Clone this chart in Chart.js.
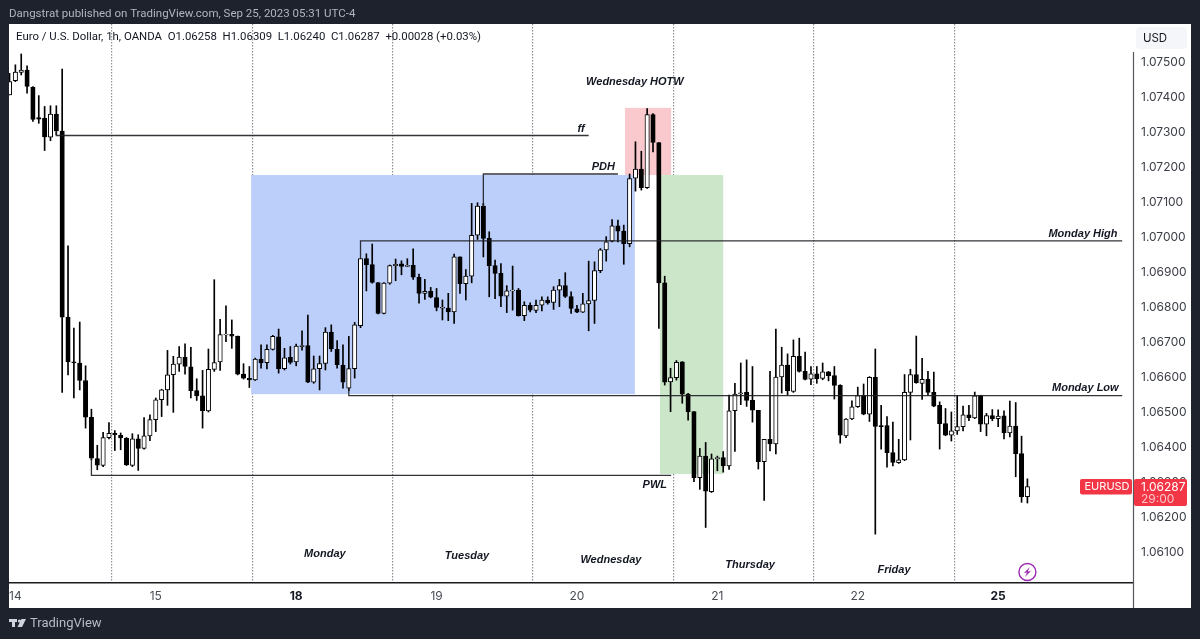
<!DOCTYPE html>
<html><head><meta charset="utf-8">
<style>html,body{margin:0;padding:0;background:#1e222d;overflow:hidden}canvas{display:block}</style>
<script src="https://cdn.jsdelivr.net/npm/chart.js@4"></script>
</head><body><canvas id="c" width="1200" height="639" style="width:1200px;height:639px"></canvas>
<script>
// Hourly candles, in points: 7406 means 1.07406
const opens=[7406,7447,7470,7477,7428,7341,7339,7285,7351,7303,
6771,6643,6640,6590,6485,6367,6347,6427,6439,6433,
6425,6347,6423,6396,6432,6478,6535,6563,6607,6637,
6657,6629,6561,6546,6503,6622,6643,6720,6722,6717,
6608,6596,6592,6651,6641,6679,6715,6624,6656,6643,
6687,6690,6585,6624,6639,6728,6679,6634,6568,6624,
6747,6938,6921,6870,6782,6868,6918,6923,6916,6919,
6885,6839,6845,6827,6797,6797,6786,6943,6867,6888,
7005,7088,6996,6918,6896,6831,6846,6848,6775,6805,
6790,6805,6820,6813,6848,6861,6830,6795,6785,6809,
6819,6904,6963,6988,7032,7017,6981,7168,7194,7141,
7350,7270,6869,6586,6598,6643,6551,6501,6312,6374,
6272,6366,6370,6346,6504,6552,6556,6533,6505,6358,
6422,6409,6600,6634,6559,6659,6616,6594,6609,6596,
6615,6604,6576,6432,6480,6515,6547,6494,6599,6461,
6461,6384,6355,6363,6556,6607,6582,6593,6556,6519,
6467,6434,6446,6458,6492,6483,6546,6465,6490,6481,
6489,6440,6460,6381,6258];
const highs=[7468,7492,7523,7489,7430,7404,7373,7375,7375,7480,
6975,6740,6757,6632,6508,6405,6442,6470,6447,6440,
6427,6438,6435,6484,6492,6540,6565,6676,6659,6687,
6695,6685,6595,6619,6680,6878,6765,6803,6763,6717,
6638,6630,6654,6692,6692,6719,6737,6682,6687,6694,
6732,6777,6660,6660,6741,6749,6704,6692,6716,6756,
6938,6952,6980,6870,6870,6920,6937,6932,6938,6966,
6894,6879,6856,6853,6820,6839,6951,6943,6907,7096,
7098,7096,7015,6934,6924,6861,6917,6853,6815,6812,
6820,6829,6829,6858,6879,6898,6843,6805,6839,6931,
6929,6967,7001,7050,7048,7034,7180,7272,7245,7367,
7353,7270,6888,6625,6647,6644,6553,6501,6396,6413,
6380,6374,6387,6548,6582,6640,6649,6630,6505,6422,
6616,6737,6685,6666,6706,6711,6671,6630,6630,6640,
6616,6630,6578,6481,6532,6571,6580,6601,6680,6519,
6487,6471,6422,6607,6622,6717,6653,6616,6614,6529,
6510,6500,6546,6517,6519,6557,6548,6496,6507,6506,
6503,6531,6527,6431,6309];
const lows=[7406,7444,7463,7411,7330,7325,7247,7275,7292,6556,
6606,6540,6563,6454,6363,6335,6344,6423,6390,6392,
6347,6344,6333,6394,6418,6444,6487,6519,6499,6616,
6608,6540,6533,6454,6500,6616,6619,6701,6682,6606,
6594,6570,6590,6625,6623,6677,6611,6620,6637,6632,
6677,6584,6582,6563,6620,6673,6625,6568,6561,6597,
6741,6846,6868,6780,6780,6865,6875,6892,6915,6879,
6811,6822,6826,6789,6763,6761,6753,6839,6820,6869,
6993,6943,6829,6824,6801,6784,6791,6774,6761,6786,
6784,6789,6808,6793,6801,6827,6782,6784,6784,6732,
6753,6898,6931,6986,6986,6922,6972,7131,7134,7139,
7243,6739,6577,6501,6591,6525,6477,6301,6279,6170,
6270,6332,6328,6336,6387,6521,6516,6471,6337,6247,
6389,6380,6554,6549,6556,6614,6592,6578,6582,6592,
6589,6537,6411,6427,6478,6513,6492,6473,6151,6394,
6342,6346,6353,6361,6420,6582,6536,6548,6515,6394,
6432,6417,6436,6446,6475,6481,6444,6432,6475,6458,
6423,6429,6315,6242,6240];
const closes=[7444,7471,7477,7430,7336,7337,7286,7351,7303,6771,
6643,6640,6590,6485,6368,6348,6427,6439,6435,6426,
6349,6423,6396,6432,6478,6535,6563,6606,6637,6657,
6630,6561,6546,6504,6622,6641,6721,6722,6717,6608,
6597,6592,6651,6640,6679,6716,6624,6655,6642,6688,
6690,6585,6623,6638,6728,6680,6635,6585,6624,6749,
6938,6921,6870,6782,6868,6918,6922,6916,6919,6885,
6839,6845,6828,6799,6800,6786,6943,6867,6888,7005,
7088,6996,6918,6896,6831,6846,6848,6775,6805,6791,
6805,6820,6812,6848,6861,6830,6796,6785,6809,6818,
6904,6963,6986,7032,7017,6981,7167,7194,7141,7350,
7270,6869,6585,6598,6642,6551,6501,6312,6374,6274,
6366,6370,6346,6503,6551,6555,6533,6505,6358,6422,
6409,6600,6634,6561,6659,6616,6593,6609,6595,6615,
6604,6576,6434,6480,6515,6547,6494,6599,6459,6458,
6384,6356,6363,6556,6607,6584,6593,6556,6517,6467,
6434,6446,6458,6492,6483,6546,6465,6490,6481,6488,
6440,6460,6381,6258,6287];
const priceTicks=[1.061,1.062,1.063,1.064,1.065,1.066,1.067,1.068,1.069,1.07,1.071,1.072,1.073,1.074,1.075];
const dayLabels=['14','15','18','19','20','21','22','25'];
const dayLabelIndex=[1,25,49,73,97,121,145,169];
const boldDays=['18','25'];
const sessionGrid=[17.5,41.5,65.5,89.5,113.5,137.5,161.5];
const levelFF=[[8,1.07303],[8,1.0729],[99,1.0729]];
const levelPDH=[[81,1.07086],[81,1.0718],[104,1.0718]];
const levelMonHigh=[[60,1.0694],[60,1.06989],[190.2,1.06989]];
const levelMonLow=[[58,1.06569],[58,1.06547],[190.2,1.06547]];
const levelPWL=[[14,1.06369],[14,1.06319],[113.1,1.06319]];
const zoneBlue=[41.3,106.9,1.07177,1.06551];
const zonePink=[105.2,113.1,1.07369,1.07177];
const zoneGreen=[111.2,122,1.07177,1.06323];
const noteTexts=['Wednesday HOTW','ff','PDH','Monday High','Monday Low','PWL','Monday','Tuesday','Wednesday','Thursday','Friday'];
const noteIndex=[106.9,97.7,101.5,183.5,183.9,110.3,53.9,78.2,102.8,126.6,151.2];
const notePrice=[1.07443,1.07308,1.072,1.07008,1.06568,1.06291,1.06094,1.06088,1.06077,1.06063,1.06048];
const lastIndex=174, lastPrice=1.06287;

const P=v=>1+v/100000;
const UI='Inter, "Liberation Sans", sans-serif';
const line=(pts)=>({type:'line',data:pts.map(p=>({x:p[0],y:p[1]})),borderColor:'rgba(30,30,35,0.9)',borderWidth:1.3,pointRadius:0,tension:0,order:0,clip:false});

const decor={id:'decor',
 beforeDraw(ch){const c=ch.ctx;c.save();
  c.fillStyle='#1e222d';c.fillRect(0,0,1200,639);
  c.fillStyle='#fff';c.fillRect(9,24,1182,584);
  c.fillStyle='#f5f6f9';c.beginPath();c.roundRect(1136,27,51,22,4);c.fill();c.restore();},
 beforeDatasetsDraw(ch){const c=ch.ctx,x=ch.scales.x,y=ch.scales.y;c.save();
  [[zoneBlue,'#bccffb'],[zonePink,'#f9c9cd'],[zoneGreen,'#cbe6c9']].forEach(([z,col])=>{
   c.fillStyle=col;const a=x.getPixelForValue(z[0]),b=x.getPixelForValue(z[1]),t=y.getPixelForValue(z[2]),u=y.getPixelForValue(z[3]);
   c.fillRect(a,t,b-a,u-t);});
  c.restore();},
 afterDraw(ch){const c=ch.ctx,x=ch.scales.x,y=ch.scales.y;c.save();
  c.textBaseline='middle';c.textAlign='center';c.fillStyle='#131722';
  c.font='italic bold 11px "Liberation Sans", Arial, sans-serif';
  noteTexts.forEach((t,i)=>c.fillText(t,x.getPixelForValue(noteIndex[i]),y.getPixelForValue(notePrice[i])));
  // price axis line, below the currency button
  c.strokeStyle='#55585f';c.lineWidth=1.2;c.beginPath();c.moveTo(1133.5,52);c.lineTo(1133.5,608);c.stroke();
  // header + legend
  c.textAlign='left';
  c.fillStyle='#b2b5be';c.font='11.5px Roboto, sans-serif';c.fillText('Dangstrat published on TradingView.com, Sep 25, 2023 05:31 UTC-4',9,14);
  c.fillStyle='#131722';c.font='11.4px Roboto, sans-serif';c.fillText('Euro / U.S. Dollar, 1h, OANDA  O1.06258  H1.06309  L1.06240  C1.06287  +0.00028 (+0.03%)',16,37.5);
  // USD
  c.textAlign='center';c.font='11.5px '+UI;c.fillText('USD',1155,38.5);
  // last-price labels
  const py=y.getPixelForValue(lastPrice);
  c.fillStyle='#f23645';
  c.beginPath();c.roundRect(1080,py-7.5,52,15.5,2);c.fill();
  c.beginPath();c.roundRect(1134,py-7.5,53,27,2);c.fill();
  c.textAlign='left';c.fillStyle='#fff';c.font='11px '+UI;
  c.fillText('EURUSD',1084.5,py+0.5);c.font='12px '+UI;c.fillText('1.06287',1141,py+0.5);
  c.fillStyle='#fbc3c8';c.fillText('29:00',1141,py+13);
  // event marker
  const mx=x.getPixelForValue(lastIndex),my=572;
  c.strokeStyle='#9c27b0';c.lineWidth=1.4;c.beginPath();c.arc(mx,my,8.5,0,Math.PI*2);c.stroke();
  c.fillStyle='#9c27b0';c.beginPath();c.moveTo(mx+2.5,my-5);c.lineTo(mx-3.5,my+1);c.lineTo(mx-.3,my+.6);c.lineTo(mx-2.5,my+5);c.lineTo(mx+3.5,my-1);c.lineTo(mx+.3,my-.6);c.closePath();c.fill();
  // brand
  c.fillStyle='#d1d4dc';c.fillRect(9,619,8,3);c.fillRect(12,619,3,8);c.beginPath();c.arc(19.5,621,1.6,0,Math.PI*2);c.fill();
  c.beginPath();c.moveTo(21.5,619);c.lineTo(26,619);c.lineTo(22,627);c.lineTo(17.5,627);c.closePath();c.fill();
  c.fillStyle='#b8bbc3';c.font='13px Roboto, sans-serif';c.textAlign='left';c.fillText('TradingView',30,624);
  c.restore();}
};

new Chart(document.getElementById('c'),{
 type:'bar',
 data:{datasets:[
  line(levelFF),line(levelPDH),line(levelMonHigh),line(levelMonLow),line(levelPWL),
  {data:opens.map((o,i)=>({x:i,y:[P(o),P(closes[i])]})),barThickness:4.4,grouped:false,order:1,
   backgroundColor:c=>closes[c.dataIndex]>=opens[c.dataIndex]?'#ffffff':'#000000',borderColor:'#000000',borderWidth:1,borderSkipped:false},
  {data:highs.map((h,i)=>({x:i,y:[P(lows[i]),P(h)]})),barThickness:1,grouped:false,order:2,backgroundColor:'#000000',borderWidth:0}
 ]},
 plugins:[decor],
 options:{responsive:false,animation:false,devicePixelRatio:1,
  layout:{padding:{left:9,top:24,right:9,bottom:31}},
  plugins:{legend:{display:false},tooltip:{enabled:false},title:{display:false}},
  scales:{
   x:{type:'linear',offset:false,min:-0.09,max:192.05,
    grid:{offset:false,drawTicks:false,lineWidth:1.2,color:c=>sessionGrid.includes(c.tick&&c.tick.value)?'#8e9198':'rgba(0,0,0,0)'},
    border:{display:true,color:'#1a1a1f',width:1.4,dash:[1.5,1.5]},
    afterBuildTicks:s=>{s.ticks=dayLabelIndex.concat(sessionGrid).sort((a,b)=>a-b).map(v=>({value:v}));},
    afterFit:s=>{s.height=25;},
    ticks:{autoSkip:false,maxRotation:0,padding:6,
     color:c=>{const k=dayLabelIndex.indexOf(c.tick&&c.tick.value);return k>=0&&boldDays.includes(dayLabels[k])?'#131722':'#4a4d55';},
     font:c=>{const k=dayLabelIndex.indexOf(c.tick&&c.tick.value);return {family:UI,size:12,weight:k>=0&&boldDays.includes(dayLabels[k])?'700':'400'};},
     callback:v=>{const k=dayLabelIndex.indexOf(v);return k>=0?dayLabels[k]:'';}}},
   y:{type:'linear',position:'right',min:1.060114,max:1.076086,
    grid:{display:false,drawTicks:false},border:{display:false},
    afterBuildTicks:s=>{s.ticks=priceTicks.map(v=>({value:v}));},
    afterFit:s=>{s.width=58;},
    ticks:{autoSkip:false,padding:8,color:'#3a3d45',font:{family:UI,size:12},callback:v=>v.toFixed(5)}}
  }}
});
</script></body></html>
